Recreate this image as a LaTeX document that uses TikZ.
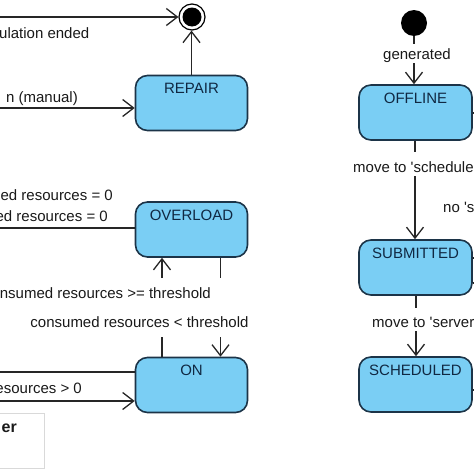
\documentclass[tikz,border=0pt]{standalone}
\usepackage{fontspec}
\newfontfamily\lsans{Liberation Sans}
\usetikzlibrary{arrows.meta}
\definecolor{boxfill}{RGB}{122,206,244}
\definecolor{boxline}{RGB}{28,52,72}
\definecolor{boxtext}{RGB}{16,40,66}
\definecolor{lbl}{RGB}{25,25,25}
\begin{document}
\begin{tikzpicture}[x=1pt,y=-1pt,
  font=\lsans,
  state/.style={draw=boxline, fill=boxfill, line width=1.6pt, rounded corners=12pt,
    minimum width=112pt, inner sep=0pt, text height=18pt, text depth=37pt,
    font=\lsans\fontsize{15}{18}\selectfont, text=boxtext},
  conn/.style={line width=1.3pt, draw=black!85},
  arr/.style={conn, -{Straight Barb[length=11pt,width=17pt,line width=1.3pt]}},
  lab/.style={font=\lsans\fontsize{15}{18}\selectfont, text=lbl, inner sep=0pt}
]
\useasboundingbox (0,0) rectangle (474,474);

% states
\node[state] (repair) at (191.5,103) {REPAIR};
\node[state] (overload) at (191.5,229.5) {OVERLOAD};
\node[state] (on) at (191.5,385) {ON};
\node[state, minimum width=113pt] (offline) at (415.5,112.5) {OFFLINE};
\node[state, minimum width=113pt] (submitted) at (415.5,267.5) {SUBMITTED};
\node[state, minimum width=113pt] (scheduled) at (415.5,384.5) {SCHEDULED};

% final and initial states
\node[circle, draw=black, line width=1.2pt, fill=white, minimum size=26pt, inner sep=0pt] (final) at (192,17) {};
\fill[black] (final.center) circle (9.5pt);
\node[circle, fill=black, minimum size=26pt, inner sep=0pt] (init) at (414,23) {};

% left free ends
\coordinate (lin1) at (-5,17);
\coordinate (lin2) at (-5,108);
\coordinate (out1) at (-5,228);
\coordinate (out2) at (-5,372);
\coordinate (lin3) at (-5,401);

\draw[arr] (lin1) -- (final.west);
\draw[arr] (repair.north) -- (repair.north |- final.south);
\draw[arr] (lin2) -- (lin2 -| repair.west);
\draw[conn] (out1 -| overload.west) -- (out1);
\draw[conn] (out2 -| on.west) -- (out2);
\draw[arr] (lin3) -- (lin3 -| on.west);

% ON <-> OVERLOAD
\coordinate (c1a) at (162,337);
\coordinate (c1b) at (162,278);
\coordinate (c2a) at (220.5,278);
\coordinate (c2b) at (220.5,337);
\draw[conn] (c1a |- on.north) -- (c1a);
\draw[arr] (c1b) -- (c1b |- overload.south);
\draw[conn] (c2a |- overload.south) -- (c2a);
\draw[arr] (c2b) -- (c2b |- on.north);

% right column
\coordinate (g1) at (414,44);
\coordinate (g2) at (414,63);
\draw[conn] (init.south) -- (g1);
\draw[arr] (g2) -- (g2 |- offline.north);
\coordinate (s1) at (415,152);
\coordinate (s2) at (415,176);
\draw[conn] (s1 |- offline.south) -- (s1);
\draw[arr] (s2) -- (s2 |- submitted.north);
\coordinate (v1) at (416,308);
\coordinate (v2) at (416,331);
\draw[conn] (v1 |- submitted.south) -- (v1);
\draw[arr] (v2) -- (v2 |- scheduled.north);
\coordinate (r1) at (480,113);
\coordinate (r2) at (480,258);
\coordinate (r3) at (480,283);
\coordinate (r4) at (480,390);
\draw[conn] (r1 -| offline.east) -- (r1);
\draw[conn] (r2 -| submitted.east) -- (r2);
\draw[conn] (r3 -| submitted.east) -- (r3);
\draw[conn] (r4 -| scheduled.east) -- (r4);

% labels
\node[lab, anchor=west] (l1) at (-1,33) {ulation ended};
\node[lab, anchor=east] (l2) at (78,99) {n (manual)};
\node[lab, anchor=east] (l3) at (113,195) {ed resources = 0};
\node[lab, anchor=east] (l4) at (108,216) {ed resources = 0};
\node[lab, anchor=east] (l5) at (211,293) {nsumed resources >= threshold};
\node[lab] (l6) at (139.5,322) {consumed resources < threshold};
\node[lab, anchor=east] (l7) at (82,388) {esources > 0};
\node[lab] (l8) at (417,56) {generated};
\node[lab, anchor=west] (l9) at (353,167) {move to 'schedule};
\node[lab, anchor=west] (l10) at (443,207) {no 's};
\node[lab, anchor=west] (l11) at (372,322) {move to 'server};

% legend box (partly visible)
\draw[draw=black!15, line width=0.8pt] (-10,413) rectangle (44,468);
\node[lab, anchor=east, font=\lsans\bfseries\fontsize{16}{19}\selectfont] (leg) at (17,428) {er};
\end{tikzpicture}
\end{document}
